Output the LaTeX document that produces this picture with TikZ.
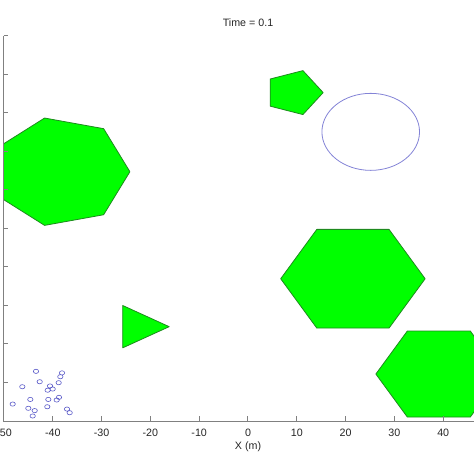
\documentclass[tikz,border=0pt]{standalone}
\usepackage{fontspec}
\setmainfont{Liberation Sans}
\definecolor{verde}{HTML}{00FF00}
\definecolor{verdeborde}{HTML}{1E8A1E}
\definecolor{azul}{HTML}{5A5AC8}
\definecolor{gris}{HTML}{808080}

\begin{document}
\begin{tikzpicture}[
  x=4.88pt, y=3.85pt,
  font=\fontsize{10.7}{12}\selectfont,
  obstaculo/.style={fill=verde, draw=verdeborde, line width=0.8pt, line join=round},
  meta/.style={draw=azul!75, line width=0.8pt},
  robot/.style={draw=azul, line width=0.6pt},
  eje/.style={draw=gris, line width=1pt},
  marca/.style={anchor=base, inner sep=0pt, text=black!85}
]
\useasboundingbox (-248pt,-53pt) rectangle (226pt,421pt);
\begin{scope}
\clip (-50,0) rectangle (50,100);
% obstaculos
\draw[obstaculo, shift={(-38.5,64.75)}] (0:14.3) -- (51.43:14.3) -- (102.86:14.3) -- (154.29:14.3) -- (205.71:14.3) -- (257.14:14.3) -- (308.57:14.3) -- cycle;
\draw[obstaculo, shift={(9.4,85.3)}] (0:6) -- (72:6) -- (144:6) -- (216:6) -- (288:6) -- cycle;
\draw[obstaculo, shift={(-22.5,24.5)}] (0:6.35) -- (120:6.35) -- (240:6.35) -- cycle;
\draw[obstaculo, shift={(21.5,36.95)}] (0:14.8) -- (60:14.8) -- (120:14.8) -- (180:14.8) -- (240:14.8) -- (300:14.8) -- cycle;
\draw[obstaculo, shift={(39.1,12.2)}] (0:12.9) -- (60:12.9) -- (120:12.9) -- (180:12.9) -- (240:12.9) -- (300:12.9) -- cycle;
% meta
\draw[meta] (25.15,75.1) circle (10);
% robots
\draw[robot] (-43.44,12.9) circle (0.55) (-38.11,12.5) circle (0.55) (-38.46,11.5) circle (0.55)
  (-38.79,9.95) circle (0.55) (-42.68,10.2) circle (0.55) (-46.25,8.9) circle (0.55)
  (-40.57,9.1) circle (0.55) (-40.02,8.3) circle (0.55) (-41.05,8.0) circle (0.55)
  (-48.22,4.4) circle (0.55) (-44.61,5.6) circle (0.55) (-40.92,5.6) circle (0.55)
  (-39.2,5.45) circle (0.55) (-38.73,6.15) circle (0.55) (-45.02,3.3) circle (0.55)
  (-43.71,2.7) circle (0.55) (-41.13,3.7) circle (0.55) (-37.09,3.1) circle (0.55)
  (-36.54,2.15) circle (0.55) (-44.12,1.3) circle (0.55);
\end{scope}
% ejes
\draw[eje] (-50,100) -- (-50,0) -- (50,0);
\draw[eje] (-50,10) -- ++(4pt,0) (-50,20) -- ++(4pt,0) (-50,30) -- ++(4pt,0) (-50,40) -- ++(4pt,0)
  (-50,50) -- ++(4pt,0) (-50,60) -- ++(4pt,0) (-50,70) -- ++(4pt,0) (-50,80) -- ++(4pt,0)
  (-50,90) -- ++(4pt,0) (-50,100) -- ++(4pt,0);
\draw[eje] (-40,0) -- ++(0,5pt) (-30,0) -- ++(0,5pt) (-20,0) -- ++(0,5pt) (-10,0) -- ++(0,5pt)
  (0,0) -- ++(0,5pt) (10,0) -- ++(0,5pt) (20,0) -- ++(0,5pt) (30,0) -- ++(0,5pt) (40,0) -- ++(0,5pt);
\node[marca, yshift=-15pt] (tm50) at (-50,0) {-50};
\node[marca, yshift=-15pt] (tm40) at (-40,0) {-40};
\node[marca, yshift=-15pt] (tm30) at (-30,0) {-30};
\node[marca, yshift=-15pt] (tm20) at (-20,0) {-20};
\node[marca, yshift=-15pt] (tm10) at (-10,0) {-10};
\node[marca, yshift=-15pt] (t0) at (0,0) {0};
\node[marca, yshift=-15pt] (t10) at (10,0) {10};
\node[marca, yshift=-15pt] (t20) at (20,0) {20};
\node[marca, yshift=-15pt] (t30) at (30,0) {30};
\node[marca, yshift=-15pt] (t40) at (40,0) {40};
\node[marca, yshift=-28.3pt] (ejex) at (0,0) {X (m)};
\node[marca] (titulo) at (0,102.4) {Time = 0.1};
\end{tikzpicture}
\end{document}
